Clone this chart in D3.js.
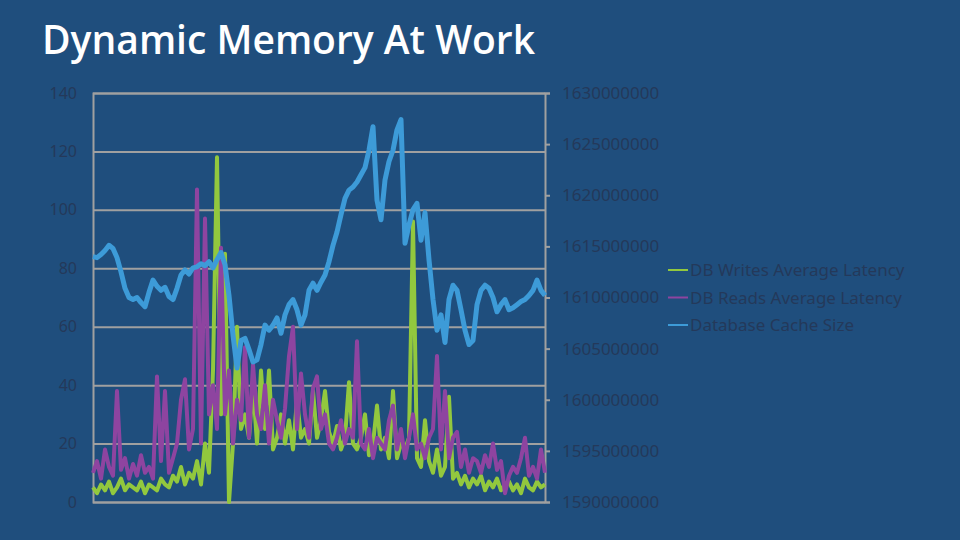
<!DOCTYPE html>
<html><head><meta charset="utf-8">
<script src="https://cdn.jsdelivr.net/npm/d3@7"></script>
<style>body{margin:0;background:#1f4e7d;}svg{display:block}</style>
</head><body>
<svg id="c" width="960" height="540"></svg>
<script>
const leftTicks = [0,20,40,60,80,100,120,140];
const rightTicks = [1590000000,1595000000,1600000000,1605000000,1610000000,1615000000,1620000000,1625000000,1630000000];
const seriesNames = ["DB Writes Average Latency","DB Reads Average Latency","Database Cache Size"];
const writes = [5,3,6,4,7,3,5,8,4,6, 5,4,7,3,6,5,4,8,6,5, 9,7,12,6,10,8,14,6,20,10,
 45,118, 30,85,0,20, 60,25,30,22,40,20,45,25,45,18, 22,30,20,28,18,35,22,25,20,38,
 22,28,38,24,20,26,18,22,41,20, 18,22,30,16,20,33,18,22,15,38, 15,20,18,22,96,15,12,28,14,10,
 18,9,12,36,8,10,6,9,5,8, 6,9,4,7,5,8,4,6,7,4, 6,3,8,5,4,7,5,6];
const reads = [10,14,8,18,12,9,38,11,15,8, 13,9,16,10,12,8,43,14,38,10, 15,20,35,42,18,25,107,20,97,30,
 40,25,87,30,45,20, 35,28,53,22,47,30,25,40,20,35, 28,22,32,50,60,25,44,30,22,39,
 43,25,30,20,18,22,28,20,25,22, 55,20,18,25,15,22,20,18,28,33, 18,25,15,22,30,18,20,15,22,25,
 50,18,38,15,22,24,12,18,10,15, 14,10,16,12,20,11,14,3,9,12, 10,15,22,9,12,8,18,10];
const cacheM = [1614.0,1613.9,1614.2,1614.6,1615.1,1614.8,1613.9,1612.5,1610.9,1610.0,
 1609.8,1610.0,1609.5,1609.1,1610.5,1611.7,1611.1,1610.7,1611.0,1610.1,
 1609.8,1610.9,1612.2,1612.7,1612.3,1612.9,1613.0,1613.3,1613.1,1613.5,
 1612.9,1613.7,1614.4,1613.2,1610.2,1606.3,1603.1,1605.8,1606.0,1604.9,
 1603.7,1603.9,1605.4,1607.3,1606.8,1607.3,1608.0,1606.5,1608.3,1609.3,
 1609.8,1608.8,1607.3,1608.3,1610.7,1611.4,1610.7,1611.5,1612.2,1613.5,
 1615.1,1616.4,1618.1,1619.7,1620.5,1620.8,1621.3,1622.0,1622.7,1624.4,
 1626.7,1619.5,1617.6,1621.5,1623.3,1624.4,1626.4,1627.4,1615.3,1617.1,
 1618.6,1619.2,1615.6,1618.3,1613.7,1609.8,1606.8,1608.3,1605.6,1609.8,
 1611.2,1610.7,1608.8,1606.8,1605.4,1605.8,1609.3,1610.7,1611.2,1610.9,
 1610.0,1608.6,1609.3,1609.8,1608.8,1609.0,1609.3,1609.6,1609.8,1610.2,
 1610.7,1611.7,1610.7,1610.2];
const cache = cacheM.map(v => v*1e6);
const colors = ["#92c83e","#8e44a0","#3d9bd8"];

const svg = d3.select("#c");
const L=93,R=545,T=93,B=502;
const x = d3.scaleLinear().domain([0,writes.length-1]).range([L,R]);
const yL = d3.scaleLinear().domain([0,140]).range([B,T]);
const yR = d3.scaleLinear().domain([1590000000,1630000000]).range([B,T]);

svg.append("text").attr("x",42).attr("y",54).attr("fill","#fff")
  .attr("font-family","Open Sans, sans-serif").attr("font-weight",600).attr("font-size",40)
  .attr("textLength",493).attr("lengthAdjust","spacingAndGlyphs")
  .text("Dynamic Memory At Work");

const gL = svg.append("g").attr("transform",`translate(${L},0)`)
  .call(d3.axisLeft(yL).tickValues(leftTicks).tickSize(-(R-L)).tickPadding(16));
gL.select(".domain").attr("stroke","#a0a0a0").attr("stroke-width",2);
gL.selectAll(".tick line").attr("stroke","#a0a0a0").attr("stroke-width",2);
gL.selectAll("text").attr("fill","#24395a").attr("font-family","Noto Sans, sans-serif").attr("font-size",16);

const gR = svg.append("g").attr("transform",`translate(${R},0)`)
  .call(d3.axisRight(yR).tickValues(rightTicks).tickFormat(d3.format("d")).tickSize(5).tickPadding(12));
gR.select(".domain").attr("stroke","#a0a0a0").attr("stroke-width",2);
gR.selectAll(".tick line").attr("stroke","#a0a0a0").attr("stroke-width",2);
gR.selectAll("text").attr("fill","#24395a").attr("font-family","Noto Sans, sans-serif").attr("font-size",17);

const lineL = d3.line().x((d,i)=>x(i)).y(d=>yL(d));
const lineR = d3.line().x((d,i)=>x(i)).y(d=>yR(d));
svg.append("path").datum(writes).attr("d",lineL).attr("fill","none").attr("stroke",colors[0]).attr("stroke-width",4).attr("stroke-linejoin","round");
svg.append("path").datum(reads).attr("d",lineL).attr("fill","none").attr("stroke",colors[1]).attr("stroke-width",4).attr("stroke-linejoin","round");
svg.append("path").datum(cache).attr("d",lineR).attr("fill","none").attr("stroke",colors[2]).attr("stroke-width",5).attr("stroke-linejoin","round");

const lg = svg.append("g");
seriesNames.forEach((n,i)=>{
  const yy = 270 + i*27.5;
  lg.append("line").attr("x1",668).attr("x2",688).attr("y1",yy).attr("y2",yy).attr("stroke",colors[i]).attr("stroke-width",2);
  lg.append("text").attr("x",690).attr("y",yy+6).attr("fill","#24395a").attr("font-family","Noto Sans, sans-serif").attr("font-size",17).text(n);
});
</script>
</body></html>
